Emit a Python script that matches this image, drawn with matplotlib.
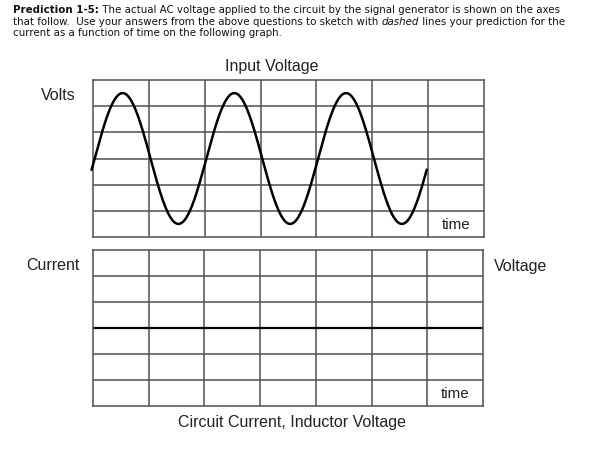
import numpy as np
import matplotlib
matplotlib.use("Agg")
import matplotlib.pyplot as plt

# --- data ---
n_cols = 7            # time divisions
n_rows = 6            # vertical divisions
wave_amplitude = 2.5  # in grid rows
wave_period = 2.0     # in grid columns
wave_phase = 0.03     # shift of the zero crossing, in columns
wave_start = -0.03
wave_end = 5.98

heading_lines = [
    [("Prediction 1-5:", "bold", "normal"),
     (" The actual AC voltage applied to the circuit by the signal generator is shown on the axes", "normal", "normal")],
    [("that follow.  Use your answers from the above questions to sketch with ", "normal", "normal"),
     ("dashed", "normal", "italic"),
     (" lines your prediction for the", "normal", "normal")],
    [("current as a function of time on the following graph.", "normal", "normal")],
]
top_title = "Input Voltage"
top_ylabel = "Volts"
bottom_left_label = "Current"
bottom_right_label = "Voltage"
bottom_title = "Circuit Current, Inductor Voltage"
time_label = "time"

W, H = 613, 452
fig = plt.figure(figsize=(W / 100, H / 100), dpi=100)
fig.patch.set_facecolor("white")

label_font = ["Liberation Sans"]
head_font = ["DejaVu Sans"]
txt_color = "#222222"


def fx(x):
    return x / W


def fy(y):
    return 1 - y / H


def make_grid_axes(left, top, right, bottom):
    ax = fig.add_axes([fx(left), fy(bottom), fx(right - left), (bottom - top) / H])
    ax.set_xlim(0, n_cols)
    ax.set_ylim(-n_rows / 2, n_rows / 2)
    for c in range(1, n_cols):
        ax.axvline(c, color="#505050", lw=1.1, zorder=1)
    for r in range(1, n_rows):
        ax.axhline(r - n_rows / 2, color="#505050", lw=1.1, zorder=1)
    for s in ax.spines.values():
        s.set_color("#505050")
        s.set_linewidth(1.1)
    ax.set_xticks([])
    ax.set_yticks([])
    ax.text(n_cols - 0.5, -n_rows / 2 + 0.5, time_label, ha="center", va="center",
            fontsize=11, family=label_font, color=txt_color)
    return ax


# top graph: input voltage
ax1 = make_grid_axes(93, 81, 484, 238)
t = np.linspace(wave_start, wave_end, 600)
v = wave_amplitude * np.sin(2 * np.pi * (t - wave_phase) / wave_period)
ax1.plot(t, v, color="black", lw=1.8, zorder=3, clip_on=False, solid_capstyle="butt")

# bottom graph: current / inductor voltage (empty, with zero line)
ax2 = make_grid_axes(93, 251, 483, 407)
ax2.axhline(0, color="black", lw=1.6, zorder=2)

# labels
fig.text(fx(272), fy(67), top_title, ha="center", va="center", fontsize=11.5, family=label_font, color=txt_color)
fig.text(fx(58), fy(95), top_ylabel, ha="center", va="center", fontsize=11.5, family=label_font, color=txt_color)
fig.text(fx(53), fy(266), bottom_left_label, ha="center", va="center", fontsize=11.5, family=label_font, color=txt_color)
fig.text(fx(521), fy(266), bottom_right_label, ha="center", va="center", fontsize=11.5, family=label_font, color=txt_color)
fig.text(fx(292), fy(423), bottom_title, ha="center", va="center", fontsize=11.5, family=label_font, color=txt_color)

# heading paragraph with mixed styles
renderer = fig.canvas.get_renderer()
line_y = [10, 22, 33]
for y, runs in zip(line_y, heading_lines):
    x = 13
    for txt, weight, style in runs:
        tt = fig.text(fx(x), fy(y), txt, ha="left", va="center", fontsize=7.4,
                      family=head_font, fontweight=weight, fontstyle=style, color="#111111")
        x += tt.get_window_extent(renderer).width

fig.savefig("out.png", dpi=100)
